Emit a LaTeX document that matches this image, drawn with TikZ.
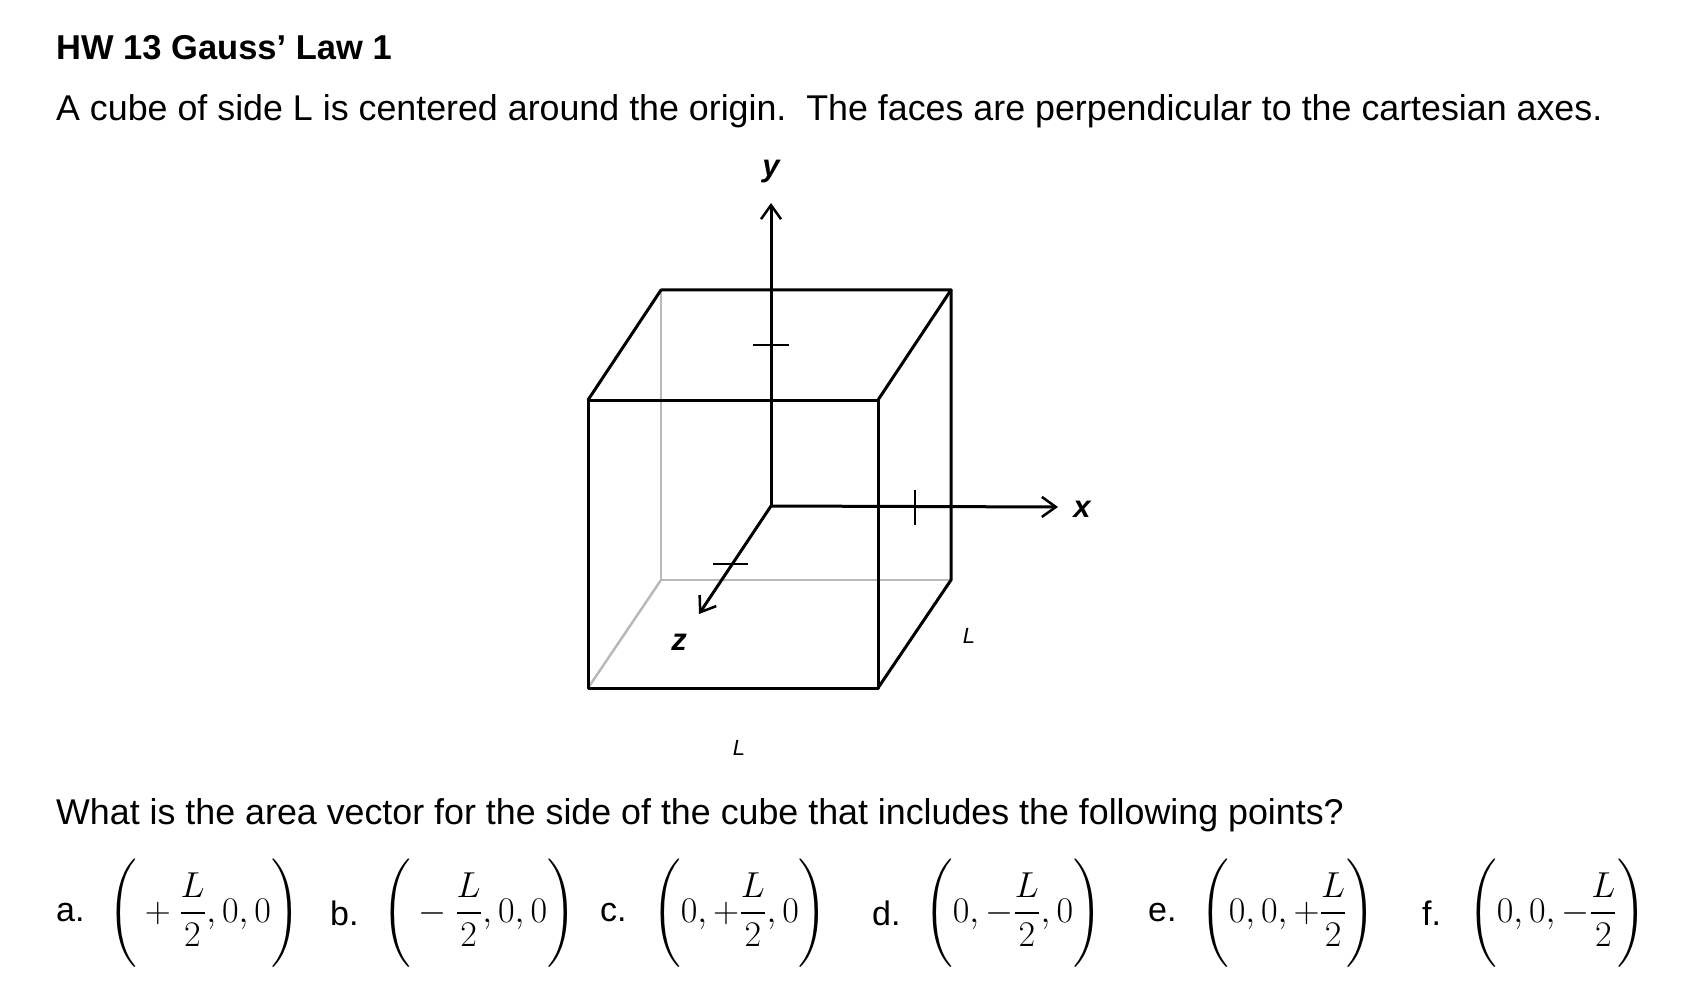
\documentclass[tikz,border=0pt]{standalone}
\usepackage{amsmath}
\usepackage{fontspec}
\setmainfont{Liberation Sans}
\usetikzlibrary{arrows.meta}
\newcommand{\vecv}[1]{\scalebox{1.45}{$\left(\rule[-0.75em]{0pt}{2em}#1\right)$}}
\begin{document}
\begin{tikzpicture}[x=1pt,y=-1pt,
  edge/.style={line width=3pt,line cap=round,line join=round},
  hid/.style={line width=2.5pt,gray!55},
  ax/.style={line width=3pt,-{Straight Barb[length=14pt,width=20pt,line width=2.5pt]}},
  tk/.style={line width=2.5pt},
  txt/.style={anchor=base west,inner sep=0pt,font=\fontsize{35.8}{40}\selectfont},
  lbl/.style={inner sep=0pt,font=\fontsize{31}{34}\selectfont\bfseries\itshape},
  ans/.style={anchor=west,inner sep=0pt,font=\fontsize{34}{38}\selectfont}]
\useasboundingbox (0,0) rectangle (1684,984);
\node[txt,font=\fontsize{34.5}{38}\selectfont\bfseries] (title) at (56,60) {HW 13 Gauss’ Law 1};
\node[txt] (intro) at (56,121) {A cube of side L is centered around the origin.\ \ The faces are perpendicular to the cartesian axes.};
% cube corners
\coordinate (fbl) at (588,688); \coordinate (fbr) at (878,688);
\coordinate (ftl) at (588,400); \coordinate (ftr) at (878,400);
\coordinate (bbl) at (661,580); \coordinate (bbr) at (951,580);
\coordinate (btl) at (661,290); \coordinate (btr) at (951,290);
\coordinate (o) at (771,506);
\draw[hid] (btl) -- (bbl) -- (bbr); \draw[hid] (bbl) -- (fbl);
\draw[ax] (o) -- (771,203) coordinate (ytip);
\draw[ax] (o) -- (1058,507) coordinate (xtip);
\draw[ax] (o) -- (699,614) coordinate (ztip);
\draw[tk] (753,345) -- (789,345);
\draw[tk] (915,490) -- (915,525);
\draw[tk] (713,564) -- (748,564);
\draw[edge] (fbl) rectangle (ftr);
\draw[edge] (ftl) -- (btl) -- (btr) -- (ftr);
\draw[edge] (btr) -- (bbr) -- (fbr);
\node[lbl] (ylab) at (771,172) {y};
\node[lbl] (xlab) at (1082,509) {x};
\node[lbl] (zlab) at (679,642) {z};
\node[inner sep=0pt,font=\fontsize{22}{26}\selectfont\itshape] (L1) at (969,636) {L};
\node[inner sep=0pt,font=\fontsize{22}{26}\selectfont\itshape] (L2) at (739,748) {L};
\node[txt] (q) at (56,824) {What is the area vector for the side of the cube that includes the following points?};
\node[ans] (a) at (56,913) {a.};
\node[ans] (av) at (108,913) {\vecv{+\dfrac{L}{2},0,0}};
\node[ans] (b) at (330,913) {b.};
\node[ans] (bv) at (382,913) {\vecv{-\dfrac{L}{2},0,0}};
\node[ans] (c) at (600,913) {c.};
\node[ans] (cv) at (652,913) {\vecv{0,+\dfrac{L}{2},0}};
\node[ans] (d) at (872,913) {d.};
\node[ans] (dv) at (924,913) {\vecv{0,-\dfrac{L}{2},0}};
\node[ans] (e) at (1148,913) {e.};
\node[ans] (ev) at (1200,913) {\vecv{0,0,+\dfrac{L}{2}}};
\node[ans] (f) at (1422,913) {f.};
\node[ans] (fv) at (1468,913) {\vecv{0,0,-\dfrac{L}{2}}};
\end{tikzpicture}
\end{document}
